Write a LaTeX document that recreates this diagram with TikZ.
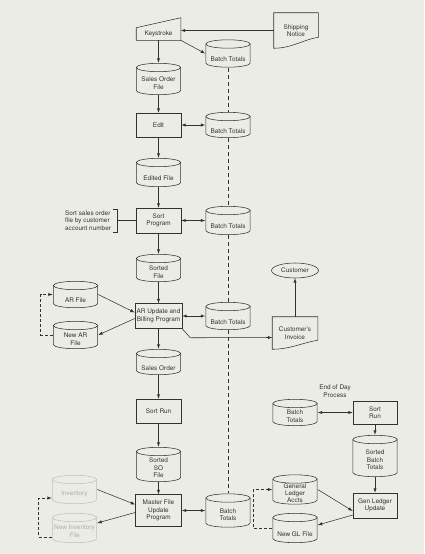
\documentclass[tikz,border=0pt]{standalone}
\usepackage{fontspec}
\setmainfont{TeX Gyre Heros}
\usetikzlibrary{positioning,shapes.geometric,arrows}
\definecolor{papier}{RGB}{236,236,231}
\definecolor{encre}{RGB}{50,50,50}

\begin{document}
\begin{tikzpicture}[x=1pt,y=-1pt,font=\fontsize{6.4}{7.5}\selectfont,line width=0.55pt]

\tikzstyle{traitement}=[rectangle, draw=encre, text=encre, align=center, inner sep=1pt, minimum width=45pt, minimum height=24pt]
\tikzstyle{fichier}[encre]=[rectangle, text=encre, align=center, inner sep=1pt, minimum width=45pt, minimum height=28pt, text height=17pt,
  path picture={
    \draw[#1] ([yshift=-4.5pt]path picture bounding box.north) ellipse [x radius=22.2pt, y radius=4.2pt];
    \draw[#1] ([xshift=.3pt,yshift=-4.5pt]path picture bounding box.north west) -- ([xshift=.3pt,yshift=4.5pt]path picture bounding box.south west)
      arc [start angle=180, end angle=360, x radius=22.2pt, y radius=4.2pt] -- ([xshift=-.3pt,yshift=-4.5pt]path picture bounding box.north east);
  }]
\tikzstyle{feuille}=[rectangle, text=encre, align=center, inner sep=1pt, minimum width=44pt, minimum height=35pt]
\tikzstyle{saisie}=[rectangle, text=encre, inner sep=1pt, minimum width=44pt, minimum height=12pt]
\tikzstyle{client}=[ellipse, draw=encre, text=encre, inner sep=0pt, minimum width=47pt, minimum height=15pt]
\tikzstyle{fleche}=[->, >=latex, encre]
\tikzstyle{echange}=[<->, >=latex, encre]
\tikzstyle{pointille}=[encre, dash pattern=on 4pt off 3pt]
\tikzstyle{boucle}=[->, >=latex, encre, dash pattern=on 3pt off 2pt]

\fill[papier] (0,0) rectangle (424,554);

%placement des nœuds
\node[saisie] (clavier) at (158.5,34) {Keystroke};
\node[feuille] (bordereau) at (296,30.5) {Shipping\\Notice};
\node[fichier] (lot1) at (228,53.5) {Batch Totals};
\node[fichier, minimum height=32pt, text height=21pt] (commandes) at (158.5,79) {Sales Order\\File};
\node[traitement] (controle) at (158.5,125) {Edit};
\node[fichier, minimum height=26pt] (lot2) at (228,125) {Batch Totals};
\node[fichier, minimum height=29pt] (controles) at (158.5,172.5) {Edited File};
\node[traitement, minimum height=25pt] (tri) at (158.5,220.5) {Sort\\Program};
\node[fichier, minimum height=29pt] (lot3) at (228,220.5) {Batch Totals};
\node[align=left, text=encre] (remarque) at (88,220.5) {Sort sales order\\file by customer\\account number};
\node[fichier, text height=21pt] (tries) at (158.5,268) {Sorted\\File};
\node[fichier, minimum height=27pt] (clients) at (75.5,294.5) {AR File};
\node[fichier, text height=21pt] (nclients) at (75.5,335) {New AR\\File};
\node[traitement, minimum width=47pt, minimum height=25pt] (facturation) at (158.5,316) {AR Update and\\Billing Program};
\node[fichier] (lot4) at (228,316) {Batch Totals};
\node[fichier, minimum height=26pt] (ventes) at (158.5,362) {Sales Order};
\node[traitement] (trivente) at (158.5,411) {Sort Run};
\node[fichier, minimum height=35pt, text height=27pt] (ventestriees) at (158.5,464.5) {Sorted\\SO\\File};
\node[fichier=gray!50, text=gray!65, minimum height=29pt, text height=13pt] (stock) at (74.5,489.5) {Inventory};
\node[fichier=gray!50, text=gray!65, minimum height=30pt, text height=19pt] (nstock) at (74.5,528) {New Inventory\\File};
\node[traitement, minimum width=46pt, minimum height=32pt] (maj) at (158.5,510.5) {Master File\\Update\\Program};
\node[fichier, minimum height=34pt, text height=21pt] (lot5) at (228,510.5) {Batch\\Totals};
\node[client] (client) at (295,270.5) {Customer};
\node[feuille, minimum width=45pt, minimum height=32pt] (facture) at (295,333) {Customer's\\Invoice};
\node[text=encre, align=center] (finjour) at (335,391) {End of Day\\Process};
\node[fichier, minimum height=27pt, text height=20pt] (lot6) at (295,412.5) {Batch\\Totals};
\node[traitement, minimum width=44pt, minimum height=23pt] (trilot) at (375,412.5) {Sort\\Run};
\node[fichier, minimum height=42pt, text height=28pt] (lotstries) at (375,456) {Sorted\\Batch\\Totals};
\node[fichier, font=\fontsize{6.4}{7}\selectfont, minimum height=30pt, text height=27pt] (grandlivre) at (295,489.5) {General\\Ledger\\Accts};
\node[fichier, minimum height=30pt] (ngrandlivre) at (295,528) {New GL File};
\node[traitement, minimum width=44pt, minimum height=25pt] (majgl) at (375,505.5) {Gen Ledger\\Update};

%contours des symboles
\draw[encre] (clavier.south west) -- (clavier.north west) -- ([yshift=10pt]clavier.north east) -- (clavier.south east) -- cycle;
\draw[encre] (bordereau.south west) -- (bordereau.north west) -- (bordereau.north east) -- ([yshift=11pt]bordereau.south east) .. controls +(-14,2) and +(18,0) .. (bordereau.south west);
\draw[encre] (facture.south west) -- (facture.north west) -- (facture.north east) -- ([yshift=9pt]facture.south east) .. controls +(-14,2) and +(18,0) .. (facture.south west);
\coordinate (crochet) at (117.5,220.5);
\draw[encre] (113,209) -- (117.5,209) -- (117.5,232) -- (113,232);

%placement des flèches
\draw[fleche] (bordereau.west) -- (bordereau.west -| clavier.east);
\draw[fleche] (clavier.south east) -- (lot1.west);
\draw[fleche] (clavier) -- (commandes);
\draw[fleche] (commandes) -- (controle);
\draw[fleche] (controle) -- (controles);
\draw[fleche] (controles) -- (tri);
\draw[fleche] (tri) -- (tries);
\draw[fleche] (tries) -- (facturation);
\draw[fleche] (facturation) -- (ventes);
\draw[fleche] (ventes) -- (trivente);
\draw[fleche] (trivente) -- (ventestriees);
\draw[fleche] (ventestriees) -- (maj);
\draw[encre] (crochet) -- (tri);
\draw[echange] (controle) -- (lot2);
\draw[echange] (tri) -- (lot3);
\draw[echange] (facturation) -- (lot4);
\draw[echange] (maj) -- (lot5);
\draw[echange] (lot6) -- (trilot);
\draw[pointille] (lot1) -- (lot2);
\draw[pointille] (lot2) -- (lot3);
\draw[pointille] (lot3) -- (lot4);
\draw[pointille] (lot4) -- (lot5);
\draw[fleche] (clients.east) -- ([yshift=3.5pt]facturation.west);
\draw[fleche] ([yshift=-2.5pt]facturation.west) -- (nclients.east);
\draw[boucle] (nclients.west) -- ++(-12,0) |- (clients.west);
\draw[fleche] (stock.east) -- ([yshift=6pt]maj.west);
\draw[fleche] ([yshift=-2pt]maj.west) -- ([yshift=5pt]nstock.east);
\draw[boucle] ([yshift=-9pt]nstock.west) -- ++(-13,0) |- ([yshift=-8.5pt]stock.west);
\draw[fleche] (facturation.south east) -- ++(8,9) -- ([yshift=-4.5pt]facture.west);
\draw[fleche] (facture) -- (client);
\draw[fleche] (trilot) -- (lotstries);
\draw[fleche] (lotstries) -- (majgl);
\draw[fleche] (grandlivre.east) -- ([yshift=-5.5pt]majgl.west);
\draw[fleche] ([yshift=-9.5pt]majgl.west) -- ([yshift=3pt]ngrandlivre.east);
\draw[boucle] (ngrandlivre.west) -- ++(-19,0) |- (grandlivre.west);
\end{tikzpicture}
\end{document}
